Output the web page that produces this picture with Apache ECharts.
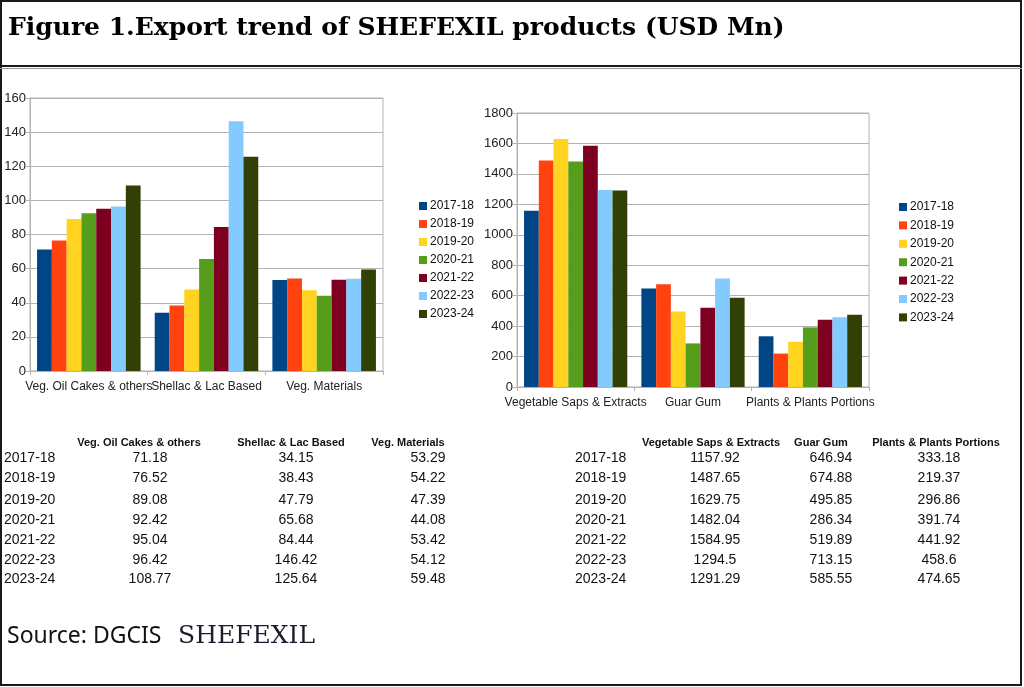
<!DOCTYPE html>
<html>
<head>
<meta charset="utf-8">
<script src="https://cdn.jsdelivr.net/npm/echarts@6/dist/echarts.min.js"></script>
<style>
  html, body { margin: 0; padding: 0; background: #fff; }
  #chart { width: 1024px; height: 687px; }
</style>
</head>
<body>
<div id="chart"></div>
<script>
// years = series names, one bar colour each
const years = ["2017-18", "2018-19", "2019-20", "2020-21", "2021-22", "2022-23", "2023-24"];

// left chart
const leftCats = ["Veg. Oil Cakes & others", "Shellac & Lac Based", "Veg. Materials"];
const vegOilCakes = [71.18, 76.52, 89.08, 92.42, 95.04, 96.42, 108.77];
const shellacLac = [34.15, 38.43, 47.79, 65.68, 84.44, 146.42, 125.64];
const vegMaterials = [53.29, 54.22, 47.39, 44.08, 53.42, 54.12, 59.48];

// right chart
const rightCats = ["Vegetable Saps & Extracts", "Guar Gum", "Plants & Plants Portions"];
const vegSaps = [1157.92, 1487.65, 1629.75, 1482.04, 1584.95, 1294.5, 1291.29];
const guarGum = [646.94, 674.88, 495.85, 286.34, 519.89, 713.15, 585.55];
const plantsPortions = [333.18, 219.37, 296.86, 391.74, 441.92, 458.6, 474.65];

const palette = ["#004586", "#ff420e", "#ffd320", "#579d1c", "#7e0021", "#83caff", "#314004"];

const leftCols = [vegOilCakes, shellacLac, vegMaterials];
const rightCols = [vegSaps, guarGum, plantsPortions];

const chart = echarts.init(document.getElementById("chart"), null, { renderer: "canvas" });

const axisGray = "#b3b3b3";
const sans = "Liberation Sans, Arial, sans-serif";

function catAxis(gridIndex, cats) {
  return {
    type: "category",
    gridIndex: gridIndex,
    data: cats,
    axisLine: { lineStyle: { color: axisGray } },
    axisTick: { show: true, length: 4, lineStyle: { color: axisGray } },
    axisLabel: { interval: 0, color: "#222", fontFamily: sans, fontSize: 12, margin: 10 },
  };
}

function valAxis(gridIndex, max, interval) {
  return {
    type: "value",
    gridIndex: gridIndex,
    min: 0,
    max: max,
    interval: interval,
    axisLine: { show: true, lineStyle: { color: axisGray } },
    axisTick: { show: true, length: 4, lineStyle: { color: axisGray } },
    axisLabel: { color: "#222", fontFamily: sans, fontSize: 13, margin: 4, formatter: (v) => String(v) },
    splitLine: { lineStyle: { color: axisGray } },
  };
}

const series = [];
years.forEach((y, i) => {
  series.push({
    name: y,
    type: "bar",
    xAxisIndex: 0,
    yAxisIndex: 0,
    barGap: 0,
    barCategoryGap: "12%",
    itemStyle: { color: palette[i] },
    data: leftCols.map((c) => c[i]),
  });
  series.push({
    name: y,
    type: "bar",
    xAxisIndex: 1,
    yAxisIndex: 1,
    barGap: 0,
    barCategoryGap: "12%",
    itemStyle: { color: palette[i] },
    data: rightCols.map((c) => c[i]),
  });
});

// tables under the charts, built from the same arrays
const rowY = [458, 478, 500, 520, 540, 560, 579];
const graphics = [];

function txt(x, y, text, opts) {
  graphics.push({
    type: "text",
    x: x,
    y: y,
    silent: true,
    style: Object.assign({
      text: text,
      fill: "#111",
      font: "14px " + sans,
      textAlign: "center",
      textVerticalAlign: "middle",
    }, opts || {}),
  });
}

const leftHeadX = [139, 291, 408];
const leftValX = [150, 296, 428];
const rightHeadX = [711, 821, 936];
const rightValX = [715, 831, 939];

leftCats.forEach((c, j) => txt(leftHeadX[j], 443, c, { font: "bold 11px " + sans }));
rightCats.forEach((c, j) => txt(rightHeadX[j], 443, c, { font: "bold 11px " + sans }));
years.forEach((y, i) => {
  txt(4, rowY[i], y, { textAlign: "left" });
  txt(575, rowY[i], y, { textAlign: "left" });
  leftCols.forEach((col, j) => txt(leftValX[j], rowY[i], String(col[i])));
  rightCols.forEach((col, j) => txt(rightValX[j], rowY[i], String(col[i])));
});

// frame and title lines
graphics.push({ type: "rect", silent: true, shape: { x: 1, y: 1, width: 1020, height: 684 },
  style: { fill: null, stroke: "#1a1a1a", lineWidth: 2 } });
graphics.push({ type: "line", silent: true, shape: { x1: 0, y1: 66, x2: 1022, y2: 66 },
  style: { stroke: "#1a1a1a", lineWidth: 2 } });
graphics.push({ type: "line", silent: true, shape: { x1: 0, y1: 68.5, x2: 1022, y2: 68.5 },
  style: { stroke: "#9a9a9a", lineWidth: 1 } });

// title + source
txt(8, 28, "Figure 1.Export trend of SHEFEXIL products (USD Mn)",
  { textAlign: "left", font: "bold 25px DejaVu Serif", fill: "#000" });
txt(7, 636, "Source: DGCIS", { textAlign: "left", font: "23px Noto Sans", fill: "#111" });
txt(178, 636, "SHEFEXIL", { textAlign: "left", font: "25px DejaVu Serif", fill: "#1c1c2c" });

const option = {
  animation: false,
  backgroundColor: "#fff",
  grid: [
    { left: 30, right: 641, top: 98, bottom: 316, show: true, borderColor: axisGray, borderWidth: 1, backgroundColor: "transparent" },
    { left: 517, right: 155, top: 113, bottom: 300, show: true, borderColor: axisGray, borderWidth: 1, backgroundColor: "transparent" },
  ],
  xAxis: [catAxis(0, leftCats), catAxis(1, rightCats)],
  yAxis: [valAxis(0, 160, 20), valAxis(1, 1800, 200)],
  legend: [
    {
      data: years,
      orient: "vertical",
      left: 414,
      top: 195,
      icon: "rect",
      itemWidth: 8,
      itemHeight: 8,
      itemGap: 6,
      selectedMode: false,
      textStyle: { color: "#111", fontFamily: sans, fontSize: 12, padding: [0, 0, 0, -2] },
    },
    {
      data: years,
      orient: "vertical",
      left: 894,
      top: 196,
      icon: "rect",
      itemWidth: 8,
      itemHeight: 8,
      itemGap: 6.4,
      selectedMode: false,
      textStyle: { color: "#111", fontFamily: sans, fontSize: 12, padding: [0, 0, 0, -2] },
    },
  ],
  series: series,
  graphic: graphics,
};

chart.setOption(option);
</script>
</body>
</html>
